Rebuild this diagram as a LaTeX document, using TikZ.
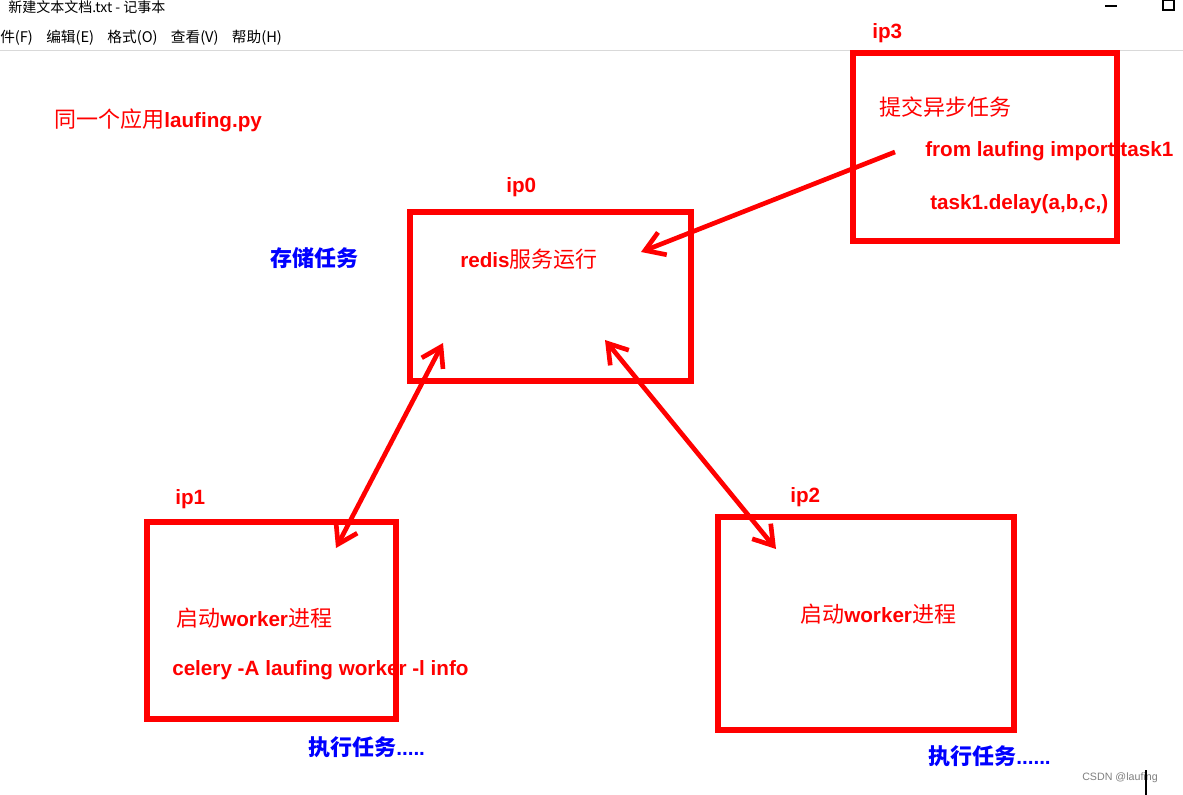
\documentclass[tikz,border=0pt]{standalone}
\usepackage{fontspec}
\setmainfont{Liberation Sans}
\newfontfamily\cjk{Noto Sans CJK SC}
\usetikzlibrary{arrows.meta}
\newcommand{\lb}[1]{{\rmfamily\bfseries\fontsize{15.5}{17}\selectfont #1}}
\begin{document}
\begin{tikzpicture}[x=0.75pt,y=-0.75pt,
  box/.style={draw=red,line width=4.5pt},
  lat/.style={text=red,font=\fontsize{15.5}{17}\selectfont\bfseries,anchor=west,inner sep=0},
  zh/.style={text=red,font=\cjk\fontsize{16.5}{18}\selectfont,anchor=west,inner sep=0},
  bzh/.style={text=blue,font=\cjk\fontsize{16.5}{18}\selectfont\bfseries,anchor=west,inner sep=0},
  arr/.style={draw=red,line width=3.5pt,-{Straight Barb[length=14pt,width=18pt,line width=3.5pt]}},
  darr/.style={draw=red,line width=3.5pt,{Straight Barb[length=14pt,width=18pt,line width=3.5pt]}-{Straight Barb[length=14pt,width=18pt,line width=3.5pt]}}]
\useasboundingbox (0,0) rectangle (1183,795);
\fill[white] (0,0) rectangle (1183,795);
% window chrome
\node[anchor=west,inner sep=0,font=\cjk\fontsize{10.5}{12}\selectfont] (title) at (8,7) {新建文本文档.txt - 记事本};
\node[anchor=west,inner sep=0,font=\cjk\fontsize{11}{12}\selectfont] (menu) at (0,38) {件(F)\hspace{10pt}编辑(E)\hspace{10pt}格式(O)\hspace{10pt}查看(V)\hspace{10pt}帮助(H)};
\draw[line width=0.8pt] (1105,6) -- (1117,6);
\draw[line width=0.8pt] (1163,0) rectangle (1174,10);
\draw[gray!30,line width=0.6pt] (0,50) -- (1183,50);
% boxes
\draw[box] (853,53) rectangle (1117,241);
\draw[box] (410,212) rectangle (691,381);
\draw[box] (147,522) rectangle (396,719);
\draw[box] (718,517) rectangle (1014,730);
% texts
\node[zh] (app) at (54,120) {同一个应用\lb{laufing.py}};
\node[lat] (ip3) at (872,33) {ip3};
\node[zh] (sub) at (879,107) {提交异步任务};
\node[lat] (imp) at (925,151) {from laufing import task1};
\node[lat] (del) at (930,204) {task1.delay(a,b,c,)};
\node[lat] (ip0) at (506,187) {ip0};
\node[bzh] (store) at (270,258) {存储任务};
\node[zh] (redis) at (460,259) {\lb{redis}服务运行};
\node[lat] (ip1) at (175,499) {ip1};
\node[zh] (w1) at (176,618) {启动\lb{worker}进程};
\node[lat] (cel) at (172,670) {celery -A laufing worker -l info};
\node[bzh] (e1) at (308,747) {执行任务\lb{\color{blue}.....}};
\node[lat] (ip2) at (790,497) {ip2};
\node[zh] (w2) at (800,614) {启动\lb{worker}进程};
\node[bzh] (e2) at (928,756) {执行任务\lb{\color{blue}......}};
\node[anchor=west,inner sep=0,text=gray,font=\fontsize{8}{9}\selectfont] (csdn) at (1082,778) {CSDN @laufing};
\draw[line width=0.8pt] (1146,770) -- (1146,795);
% arrows
\coordinate (a1) at (895,152); \coordinate (a2) at (641,252);
\coordinate (b1) at (443,343); \coordinate (b2) at (336,548);
\coordinate (c1) at (605,340); \coordinate (c2) at (776,549);
\draw[arr] (a1) -- (a2);
\draw[darr] (b1) -- (b2);
\draw[darr] (c1) -- (c2);
\end{tikzpicture}
\end{document}
